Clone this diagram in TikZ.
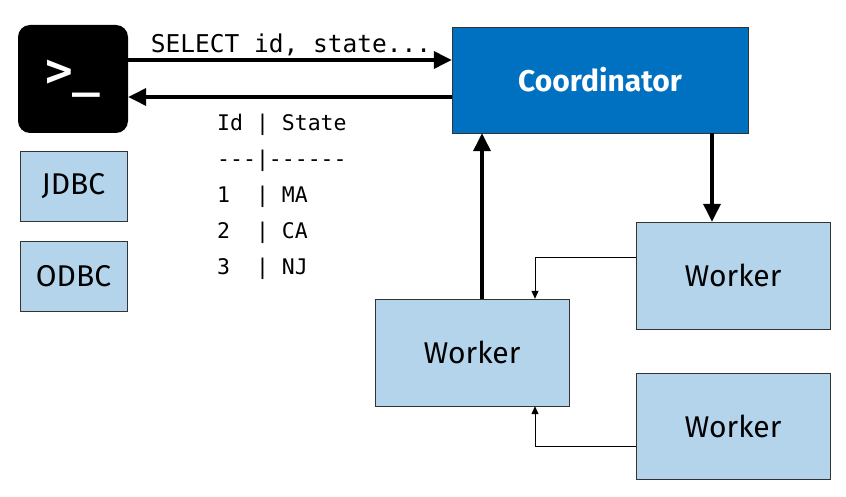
\documentclass[tikz,border=0pt]{standalone}
\usepackage{fontspec}
\setmainfont{Fira Sans}
\setmonofont{DejaVu Sans Mono}
\usetikzlibrary{positioning,calc,arrows.meta}
\definecolor{boxblue}{HTML}{B3D4EA}
\definecolor{coordblue}{HTML}{0070C0}
\tikzset{
  box/.style={draw=black!80, fill=boxblue, inner sep=0pt, font=\fontsize{30}{32}\selectfont},
  thickarrow/.style={line width=3.5pt, -{Triangle[length=18pt,width=17pt]}},
  thinarrow/.style={line width=1pt, -{Triangle[length=8pt,width=7pt]}},
}
\begin{document}
\begin{tikzpicture}[x=1pt,y=-1pt]
  \useasboundingbox (0,0) rectangle (846,497);
  \node[fill=black, rounded corners=12pt, minimum width=110pt, minimum height=108pt,
        text=white, font=\fontsize{46}{46}\bfseries\ttfamily] (term) at (73,79) {>\_};
  \node[box, minimum width=107pt, minimum height=70pt] (jdbc) at (73.5,186) {JDBC};
  \node[box, minimum width=107pt, minimum height=70pt] (odbc) at (73.5,276) {ODBC};
  \node[box, fill=coordblue, text=white, font=\fontsize{30}{32}\bfseries\selectfont,
        minimum width=296pt, minimum height=106pt] (coord) at (600,80) {Coordinator};
  \node[box, minimum width=194pt, minimum height=107pt] (w1) at (733,275.5) {Worker};
  \node[box, minimum width=194pt, minimum height=107pt] (w2) at (472,352.5) {Worker};
  \node[box, minimum width=194pt, minimum height=106pt] (w3) at (733,426) {Worker};

  \draw[thickarrow] (term.east |- 0,60) -- node[above, font=\fontsize{24.5}{25}\ttfamily, yshift=-1pt, xshift=1pt] {SELECT id, state...} (coord.west |- 0,60);
  \draw[thickarrow] (coord.west |- 0,97) -- (term.east |- 0,97);
  \node[anchor=north west, align=left, font=\fontsize{21.5}{36}\ttfamily, inner sep=0pt] (table) at (217,114)
    {Id | State\\---|------\\1~~| MA\\2~~| CA\\3~~| NJ};

  \draw[thickarrow] (coord.south -| 712,0) -- (w1.north -| 712,0);
  \draw[thickarrow] (w2.north -| 482,0) -- (coord.south -| 482,0);
  \draw[thinarrow] (w1.west |- 0,257) -| (w2.north -| 535,0);
  \draw[thinarrow] (w3.west |- 0,446) -| (w2.south -| 535,0);
\end{tikzpicture}
\end{document}
